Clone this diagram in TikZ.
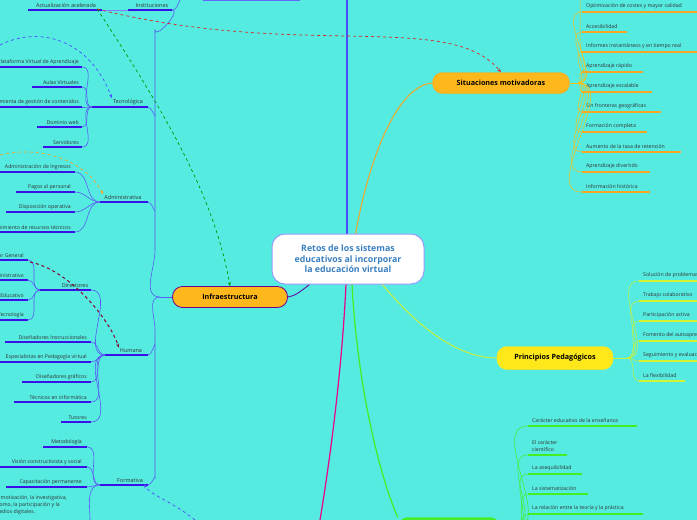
\documentclass[tikz,border=0pt]{standalone}
\usepackage{fontspec}
\setmainfont{Open Sans}
\usetikzlibrary{arrows.meta}
\definecolor{bg}{HTML}{55EBE0}
\definecolor{lblue}{HTML}{5A5AF5}
\definecolor{dblue}{HTML}{3A10E8}
\definecolor{orng}{HTML}{F5A623}
\definecolor{onode}{HTML}{FFB81C}
\definecolor{ynode}{HTML}{FFE81A}
\definecolor{ygreen}{HTML}{C8F03C}
\definecolor{grn}{HTML}{44EE22}
\definecolor{ctext}{HTML}{3A80C0}
\tikzset{
 leaf/.style={font=\fontsize{5.2}{7}\selectfont,inner sep=1pt,text=black!80},
 lab/.style={font=\fontsize{5.5}{7}\selectfont,inner sep=1pt,text=black!80},
 lline/.style={lblue,line width=0.6pt},
 lul/.style={dblue,line width=1.2pt},
 oline/.style={orng!70!yellow,line width=0.5pt},
 oul/.style={orng,line width=1.2pt},
 yline/.style={ygreen,line width=0.5pt},
 yul/.style={ygreen!80!yellow,line width=1.2pt},
 gline/.style={grn,line width=0.5pt},
 gul/.style={grn,line width=1.2pt},
 main/.style={rounded corners=10pt,font=\bfseries\fontsize{7.2}{9}\selectfont,inner xsep=8pt,minimum height=21pt},
 dsh/.style={dashed,line width=0.7pt,-{Stealth[length=4pt]}},
}
\begin{document}
\begin{tikzpicture}[x=1pt,y=-1pt]
\fill[bg] (0,0) rectangle (697,520);
\useasboundingbox (0,0) rectangle (697,520);
\clip (0,0) rectangle (697,520);
% central trunks
\coordinate (topb) at (347,0);
\draw[blue!70,line width=1.2pt] (347,237) -- (topb);
\draw[blue!60,line width=1.5pt] (203,0) -- (300,0);
\node[main,draw=purple!60!blue,fill=onode,line width=0.8pt,minimum width=115pt] (inf) at (230,297) {Infraestructura};
\node[main,draw=orng,fill=onode,minimum width=137pt] (sit) at (501,83) {Situaciones motivadoras};
\node[main,draw=ynode,fill=ynode,minimum width=116pt,minimum height=23pt] (pri) at (555,358) {Principios Pedagógicos};
\node[main,draw=grn,fill=grn,minimum width=102pt] (grnode) at (449,528) {};
\draw[orng,line width=1pt] (355,237) .. controls (370,150) and (400,85) .. (sit.west);
\draw[ygreen,line width=1pt] (382,284) .. controls (420,330) and (460,358) .. (pri.west);
\draw[grn,line width=1.2pt] (352,284) .. controls (358,400) and (385,490) .. (grnode.north west);
\draw[magenta,line width=1.2pt] (346,284) .. controls (342,370) and (330,460) .. (320,520);
\draw[purple!50!blue,line width=0.8pt] (310,284) .. controls (300,292) and (295,296) .. (inf.east);
\node[draw=blue!40,fill=white,line width=1pt,rounded corners=13pt,minimum width=152pt,minimum height=50pt,align=center,text=ctext,font=\bfseries\fontsize{8.8}{10.5}\selectfont] (c) at (348,259) {Retos de los sistemas\\educativos al incorporar\\la educación virtual};

% Infraestructura trunk
\coordinate (ih) at (160,297);
\draw[lline] (inf.west) -- (ih);
\coordinate (tecE) at (148,107);
\coordinate (admE) at (148,202);
\coordinate (humE) at (148,355);
\coordinate (forE) at (148,485);
\coordinate (insE) at (172,10);
\draw[lline] (ih) to[out=180,in=-90] (155,250) -- (155,115) to[out=-90,in=0] (tecE);
\draw[lline] (155,210) to[out=-90,in=0] (admE);
\draw[lline] (ih) to[out=180,in=90] (155,330) -- (155,345) to[out=90,in=0] (humE);
\draw[lline] (155,345) -- (155,478) to[out=90,in=0] (forE);
\draw[lline] (155,115) -- (155,30) to[out=-90,in=0] (insE);
\draw[lline] (insE) to[out=0,in=-120] (180,0);
% branch labels
\node[lab,anchor=south] (tec) at (128,106) {Tecnológica};
\node[lab,anchor=south] (adm) at (123,201) {Administrativa};
\node[lab,anchor=south] (hum) at (131,354) {Humana};
\node[lab,anchor=south] (for) at (130,484) {Formativa};
\node[lab,anchor=south] (ins) at (152,9) {Instituciones};
\node[lab,anchor=south] (act) at (66,9) {Actualización acelerada};
\draw[lul] (92,107) -- (tecE);
\draw[lul] (100,202) -- (admE);
\draw[lul] (105,355) -- (humE);
\draw[lul] (100,485) -- (forE);
\draw[lul] (128,10) -- (insE);
\draw[lul] (28,10) -- (102,10);
\draw[lline,blue!50] (102,10) -- (128,10);
% Tecnologica children
\foreach \t/\y/\s in {{Plataforma Virtual de Aprendizaje}/67/0,{Aulas Virtuales}/87/32,{Herramienta de gestión de contenidos}/107/0,{Dominio web}/127/37,{Servidores}/147/43}{
 \node[leaf,anchor=south east] at (80,\y-1) {\t};
 \draw[lul] (\s,\y) -- (82,\y);
 \draw[lline] (92,107) to[out=180,in=0] (82,\y);
}
% Administrativa children
\foreach \t/\y/\s in {{Administración de Ingresos}/172/0,{Pagos al personal}/192/16,{Disposición operativa}/212/6,{Mantenimiento de recursos técnicos}/232/0}{
 \node[leaf,anchor=south east] at (72,\y-1) {\t};
 \draw[lul] (\s,\y) -- (75,\y);
 \draw[lline] (100,202) to[out=180,in=0] (75,\y);
}
% Directores
\node[lab,anchor=south] (dir) at (75,289) {Directores};
\draw[lul] (40,290) -- (91,290);
\draw[lline] (91,290) to[out=0,in=180] (105,355);
\foreach \t/\y/\e in {{Director General}/260/28,{Director Administrativo}/280/28,{Director Educativo}/300/28,{Director de Tecnología}/320/28}{
 \node[leaf,anchor=south east] at (\e-3,\y-1) {\t};
 \draw[lul] (0,\y) -- (\e,\y);
 \draw[lline] (40,290) to[out=180,in=0] (\e,\y);
}
% Humana children
\foreach \t/\y/\s in {{Diseñadores Instruccionales}/342/5,{Especialistas en Pedagogía virtual}/362/0,{Diseñadores gráficos}/382/22,{Técnicos en informática}/402/14,{Tutores}/422/61}{
 \node[leaf,anchor=south east] at (88,\y-1) {\t};
 \draw[lul] (\s,\y) -- (91,\y);
 \draw[lline] (105,355) to[out=180,in=0] (91,\y);
}
% Formativa children
\foreach \t/\y/\s in {{Metodología}/447/43,{Visión constructivista y social}/467/0,{Capacitación permanente}/487/6}{
 \node[leaf,anchor=south east] at (83,\y-1) {\t};
 \draw[lul] (\s,\y) -- (87,\y);
 \draw[lline] (100,485) to[out=180,in=0] (87,\y);
}
\node[leaf,anchor=north west,align=left] (fm) at (-40,494) {Desarrollo de la motivación, la investigativa,\\el trabajo autónomo, la participación y la\\utilización de medios digitales.};
\draw[lline] (100,485) to[out=180,in=90] (90,520);

% Situaciones children
\coordinate (sh) at (578,83);
\draw[oline] (sit.east) -- (sh);
\foreach \t/\y/\e in {{Optimización de costes y mayor calidad}/12/700,{Accesibilidad}/32/627,{Informes instantáneos y en tiempo real}/52/697,{Aprendizaje rápido}/72/643,{Aprendizaje escalable}/92/652,{Sin fronteras geográficas}/112/661,{Formación completa}/132/647,{Aumento de la tasa de retención}/152/681,{Aprendizaje divertido}/172/650,{Información histórica}/192/650}{
 \node[leaf,anchor=south west] at (585,\y-2) {\t};
 \draw[oul] (582,\y) -- (\e,\y);
 \draw[oline] (sh) to[out=0,in=180] (582,\y);
}
\draw[oline] (sh) to[out=0,in=-90] (580,40) -- (580,0);
% Principios children
\coordinate (ph) at (627,358);
\draw[yline] (pri.east) -- (ph);
\foreach \t/\y/\e in {{Solución de problemas}/281/700,{Trabajo colaborativo}/301/700,{Participación activa}/321/700,{Fomento del autoaprendizaje}/341/700,{Seguimiento y evaluación}/361/700,{La flexibilidad}/381/685}{
 \node[leaf,anchor=south west] at (642,\y-2) {\t};
 \draw[yul] (639,\y) -- (\e,\y);
 \draw[yline] (ph) to[out=0,in=180] (639,\y);
}
% Green children
\coordinate (gh) at (515,528);
\foreach \t/\y/\e in {{Carácter educativo de la enseñanza}/426/637,{La asequibilidad}/474/582,{La sistematización}/494/588,{La relación entre la teoría y la práctica}/514/643}{
 \node[leaf,anchor=south west] at (531,\y-2) {\t};
 \draw[gul] (528,\y) -- (\e,\y);
 \draw[gline] (gh) to[out=0,in=180] (528,\y);
}
\node[leaf,anchor=south west,align=left] at (531,453) {El carácter\\científico};
\draw[gul] (528,455) -- (567,455);
\draw[gline] (gh) to[out=0,in=180] (528,455);
\draw[gline] (grnode.east) -- (gh);

% dashed relations
\draw[dsh,red!70!gray] (act.south east) .. controls (300,60) and (450,10) .. (sit.north);
\draw[dsh,green!60!black] (act.south east) .. controls (170,120) and (215,200) .. (inf.north);
\draw[dsh,blue!70] (0,45) .. controls (40,25) and (90,40) .. (tec.north west);
\draw[dsh,orng] (0,155) .. controls (40,145) and (85,160) .. (adm.north west);
\draw[dsh,purple!70!black,line width=1pt] (30,262) .. controls (70,270) and (110,320) .. (hum.north west);
\draw[dsh,blue!70] (195,520) .. controls (170,500) and (150,495) .. (for.south east);
\end{tikzpicture}
\end{document}
